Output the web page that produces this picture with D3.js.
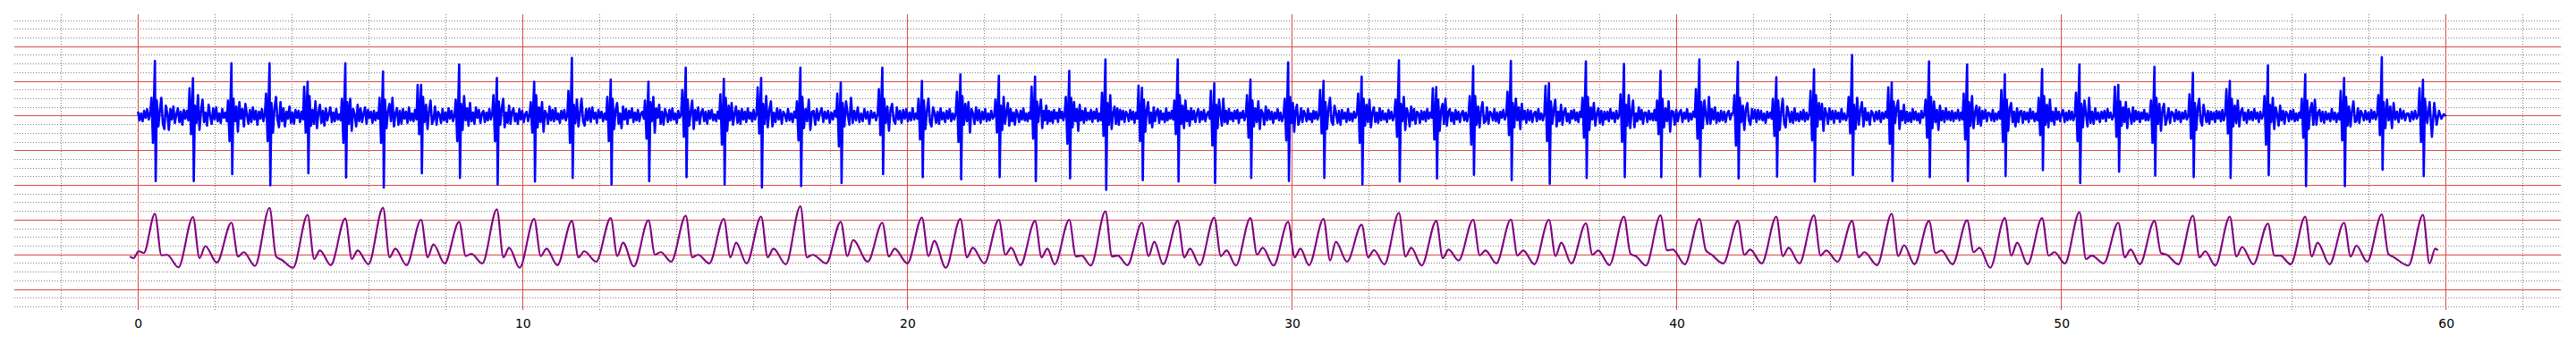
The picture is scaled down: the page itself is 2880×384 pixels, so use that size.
<!DOCTYPE html>
<html>
<head>
<meta charset="utf-8">
<script src="https://cdn.jsdelivr.net/npm/d3@7"></script>
<style>
  html, body { margin: 0; padding: 0; background: #fff; }
  svg { display: block; }
  .tick text { font-family: "DejaVu Sans", sans-serif; font-size: 13.9px; fill: #000; }
</style>
</head>
<body>
<svg id="chart" width="2880" height="384"></svg>
<script>
// time of each heart beat (s)
var beatTimes = [0.44, 1.43, 2.43, 3.42, 4.41, 5.39, 6.37, 7.36, 8.35, 9.33,
  10.30, 11.28, 12.29, 13.27, 14.24, 15.23, 16.20, 17.22, 18.27, 19.35,
  20.38, 21.38, 22.38, 23.32, 24.21, 25.15, 26.10, 27.03, 27.98, 28.92,
  29.90, 30.82, 31.81, 32.78, 33.75, 34.71, 35.69, 36.68, 37.64, 38.63,
  39.58, 40.59, 41.59, 42.59, 43.57, 44.56, 45.59, 46.56, 47.55, 48.53,
  49.50, 50.47, 51.48, 52.42, 53.42, 54.38, 55.37, 56.34, 57.35, 58.33, 59.40];

// ECG (blue): R peak, S trough and the small wave just before each QRS
var rPeak = [6.36, 4.36, 6.1, 6.1, 3.95, 6.1, 5.15, 3.6, 5.95, 4.4,
  3.95, 6.7, 4.2, 3.95, 5.57, 4.3, 4.4, 5.57, 3.88, 5.57,
  4.05, 4.8, 4.64, 4.54, 5.22, 6.53, 3.26, 6.53, 3.78, 4.2,
  6.19, 4.05, 4.54, 6.43, 3.33, 5.77, 6.36, 3.78, 6.29, 6.01,
  5.22, 6.53, 6.25, 4.47, 5.4, 7.04, 3.88, 6.29, 5.95, 4.8,
  5.43, 5.95, 3.6, 5.67, 4.98, 4.05, 5.84, 4.8, 4.4, 6.8, 4.19];
var sTrough = [-7.5, -7.5, -6.7, -8.0, -6.6, -7.1, -8.25, -6.6, -7.15, -7.9,
  -7.55, -7.15, -7.9, -7.5, -7.05, -7.9, -8.25, -8.08, -7.73, -6.7,
  -7.05, -7.3, -7.05, -7.5, -7.2, -8.5, -7.4, -7.55, -7.73, -7.15,
  -7.49, -7.15, -7.9, -7.56, -7.2, -6.77, -7.39, -7.8, -7.15, -7.05,
  -7.05, -6.98, -7.2, -6.98, -7.56, -6.8, -7.5, -7.05, -7.5, -6.94,
  -6.25, -7.73, -6.43, -6.87, -7.05, -7.15, -6.8, -8.08, -8.08, -6.19, -6.94];
var qUp = [2.1, 3.2, 1.8, 2.6, 3.4, 2.0, 2.1, 3.6, 1.9, 2.4,
  1.6, 2.9, 2.2, 1.8, 3.0, 2.5, 3.3, 1.7, 2.6, 3.1,
  2.0, 2.8, 1.9, 3.4, 2.2, 2.7, 3.5, 1.8, 2.9, 2.4,
  2.0, 3.0, 2.6, 1.9, 3.2, 2.3, 2.8, 3.5, 2.1, 2.5,
  1.8, 3.1, 2.4, 2.0, 2.9, 2.2, 3.3, 1.9, 2.6, 3.0,
  2.1, 2.7, 3.4, 1.8, 2.5, 3.1, 2.3, 2.0, 2.9, 2.4, 3.2];
var qDip = [-3.1, -2.1, -2.9, -2.9, -1.9, -3.1, -3.1, -2.1, -2.9, -2.9,
  -1.9, -3.1, -2.9, -2.6, -2.4, -3.3, -2.0, -2.8, -3.5, -2.2,
  -2.7, -3.0, -1.9, -2.6, -3.2, -2.3, -2.9, -2.1, -3.4, -2.5,
  -2.8, -2.0, -3.1, -2.4, -2.7, -3.3, -2.2, -2.9, -2.5, -3.0,
  -2.1, -2.6, -3.4, -2.3, -2.8, -2.0, -3.2, -2.5, -2.7, -3.0,
  -2.2, -2.9, -2.4, -3.1, -2.6, -2.0, -3.3, -2.5, -2.8, -2.2, -3.0];

// ECG wiggles before the first beat, then one row after every beat
var ecgLead = [0.5, -0.5, 0.3, -0.6, 0.6, -0.2, 0.8, -0.4, 0.4];
var ecgNoise = [
  [1.8,-1.2,0.6,2.1,-0.9,-1.5,1.2,0.3,-1.6,0.8,-0.4,1.1,-0.8,0.2,0.9,-0.7,0.5,-1.0,0.7,-0.3,0.6,-0.5],
  [1.2,-0.8,2.4,-1.6,0.5,1.9,-0.7,0.4,-1.1,1.3,0.1,-0.9,0.9,-0.4,1.0,-0.6,0.3,-0.8,0.8,-0.2,0.4,-0.6],
  [2.0,-0.6,1.1,-1.8,1.6,-0.3,0.8,-1.2,1.4,0.2,-0.9,0.7,-0.7,1.0,-0.4,0.6,-1.0,0.5,-0.3,0.8,-0.6,0.3],
  [1.5,-1.9,0.9,2.2,-0.4,-1.3,1.6,-0.6,0.9,-1.2,0.5,-0.3,1.1,-0.8,0.4,-0.9,0.7,-0.2,0.6,-0.7,0.5,-0.4],
  [2.3,-1.1,0.7,-0.9,1.7,-1.4,0.4,1.3,-0.8,0.6,-1.1,0.9,-0.5,0.3,1.0,-0.7,0.4,-0.6,0.8,-0.4,0.2,-0.5],
  [1.6,-0.9,2.0,-1.7,0.8,0.2,-1.2,1.3,-0.6,0.9,-0.7,0.3,1.0,-0.9,0.7,-0.2,0.5,-0.8,0.6,-0.5,0.4,-0.3],
  [1.9,-1.4,0.5,1.4,-0.6,2.1,-1.2,0.3,0.9,-1.0,0.6,-0.9,0.8,-0.3,0.5,-0.8,1.0,-0.5,0.3,-0.6,0.7,-0.4],
  [2.2,-0.7,1.3,-1.5,0.6,1.8,-0.9,-0.4,1.1,-1.0,0.5,0.2,-0.8,0.8,-0.5,0.4,-0.7,0.9,-0.3,0.6,-0.6,0.2],
  [1.4,-1.6,2.3,-0.5,0.9,-1.1,1.5,-0.6,0.4,-0.9,1.0,-0.2,0.7,-0.8,0.3,0.6,-0.7,0.4,-0.5,0.8,-0.4,0.3],
  [1.7,-1.0,0.8,2.0,-1.3,0.4,-0.8,1.2,-0.9,0.5,0.9,-0.6,0.3,-0.9,0.8,-0.4,0.6,-0.7,0.2,0.5,-0.6,0.2],
  [2.4,-1.3,1.0,-0.7,1.6,-1.8,0.6,0.2,-0.9,1.1,-0.5,0.7,-0.6,0.9,-0.4,0.3,-0.8,0.6,-0.3,0.7,-0.5,0.1],
  [1.3,-0.8,1.9,-1.2,0.4,2.0,-0.6,-1.1,0.8,-0.5,0.9,-0.7,1.0,-0.3,0.4,-0.8,0.7,-0.2,0.5,-0.6,0.3,-0.4],
  [2.0,-1.5,0.7,1.5,-0.9,0.3,-1.4,1.1,-0.4,0.8,-0.9,0.6,-0.2,0.9,-0.7,0.4,-0.5,0.7,-0.6,0.3,0.5,-0.3],
  [1.6,-0.6,2.2,-1.9,0.9,-0.2,1.3,-0.9,0.5,-1.0,0.8,0.2,-0.7,0.7,-0.5,0.9,-0.4,0.3,-0.8,0.6,-0.2,0.2],
  [1.9,-1.1,0.5,1.8,-1.5,0.7,-0.5,1.0,-0.9,0.4,0.8,-0.6,0.5,-0.9,0.6,-0.3,0.7,-0.5,0.2,-0.6,0.5,-0.3],
  [2.1,-1.7,1.2,-0.5,1.5,-1.0,0.3,1.1,-0.8,0.6,-0.9,0.8,-0.4,0.5,-0.7,0.9,-0.3,0.4,-0.6,0.7,-0.4,0.3],
  [1.4,-0.9,2.3,-1.3,0.6,1.7,-1.2,0.4,-0.7,0.9,-0.4,0.7,-0.9,0.5,0.2,-0.6,0.8,-0.5,0.3,-0.7,0.5,-0.2],
  [2.2,-1.4,0.8,-0.6,1.9,-1.6,0.5,0.6,-1.0,0.8,-0.5,0.4,0.9,-0.7,0.5,-0.3,0.6,-0.8,0.4,-0.4,0.6,-0.1],
  [1.5,-1.2,1.7,0.2,-1.0,2.1,-0.8,0.6,-0.5,1.0,-0.7,0.3,-0.6,0.8,-0.3,0.5,-0.9,0.6,-0.2,0.4,-0.5,0.3],
  [2.0,-0.8,1.1,-1.7,0.7,1.4,-0.5,-0.9,1.0,-0.4,0.6,-0.8,0.7,-0.3,0.8,-0.6,0.4,-0.5,0.9,-0.4,0.3,-0.3],
  [1.8,-1.5,0.6,2.0,-0.7,-1.2,1.0,0.4,-0.8,0.5,-0.9,0.9,-0.4,0.4,-0.7,0.6,-0.3,0.8,-0.6,0.3,-0.4,0.4],
  [2.3,-1.0,1.4,-0.6,1.6,-1.9,0.8,0.3,-0.9,1.0,-0.5,0.7,-0.8,0.5,-0.4,0.8,-0.6,0.3,-0.5,0.6,-0.3,0.1],
  [1.2,-1.6,2.2,-0.9,0.5,1.5,-1.1,0.8,-0.6,0.4,-1.0,0.7,0.2,-0.7,0.6,-0.4,0.9,-0.5,0.3,-0.6,0.4,-0.3],
  [1.7,-0.7,0.9,1.9,-1.4,0.6,-0.5,1.2,-0.9,0.6,-0.6,0.5,-0.8,0.7,-0.3,0.4,-0.7,0.8,-0.2,0.5,-0.5,0.2],
  [2.1,-1.3,1.6,-0.6,0.8,-1.7,1.3,-0.5,0.6,-0.8,0.9,-0.5,0.4,-0.4,0.7,-0.7,0.5,-0.3,0.8,-0.6,0.3,-0.5],
  [1.5,-1.0,2.4,-1.5,0.3,1.1,-0.9,0.9,-1.0,0.7,-0.4,0.6,-0.7,0.5,0.2,-0.6,0.7,-0.4,0.5,-0.8,0.4,-0.3],
  [1.9,-1.8,0.7,1.6,-0.8,0.4,-1.3,1.0,-0.6,0.5,0.8,-0.8,0.6,-0.4,0.3,-0.7,0.9,-0.5,0.4,-0.3,0.6,-0.4],
  [2.4,-0.9,1.2,-1.4,1.8,-0.6,0.6,-1.1,0.9,-0.4,0.6,-0.7,0.3,0.8,-0.7,0.5,-0.4,0.7,-0.6,0.2,0.5,-0.3],
  [1.3,-1.4,1.9,0.3,-1.1,2.0,-0.7,0.6,-0.9,0.8,-0.4,0.4,-0.6,0.6,-0.3,0.7,-0.8,0.4,-0.2,0.6,-0.5,0.2],
  [1.8,-1.2,0.9,-0.7,1.7,-1.5,0.7,0.3,-1.0,1.1,-0.5,0.7,-0.4,0.5,-0.8,0.4,-0.3,0.8,-0.5,0.4,-0.6,0.1],
  [2.2,-0.8,1.5,-1.8,0.6,1.3,-1.0,-0.4,0.9,-0.7,0.6,0.2,-0.6,0.8,-0.4,0.3,-0.7,0.6,-0.3,0.5,-0.4,0.2],
  [1.6,-1.5,0.8,2.1,-0.6,-1.0,1.2,0.4,-0.8,0.6,-1.0,0.7,-0.3,0.4,-0.7,0.8,-0.5,0.3,-0.6,0.5,-0.2,0.4],
  [2.0,-1.1,1.3,-0.7,1.9,-1.3,0.4,1.0,-0.7,0.4,-0.8,0.9,-0.5,0.6,-0.4,0.3,-0.7,0.7,-0.3,0.5,-0.5,0.1],
  [1.4,-0.6,2.2,-1.6,0.9,0.3,-1.2,1.1,-0.5,0.8,-0.9,0.5,0.3,-0.8,0.6,-0.4,0.5,-0.6,0.8,-0.3,0.4,-0.2],
  [1.9,-1.7,0.6,1.4,-0.9,2.0,-1.1,0.5,0.8,-0.6,0.4,-0.9,0.7,-0.4,0.5,-0.7,0.3,0.6,-0.5,0.4,-0.6,0.3],
  [2.3,-1.0,1.1,-1.3,0.7,1.6,-0.8,-0.6,1.0,-0.9,0.5,0.3,-0.5,0.8,-0.6,0.4,-0.8,0.5,-0.2,0.7,-0.4,0.2],
  [1.5,-1.3,2.0,-0.5,1.0,-1.5,1.4,-0.4,0.6,-0.8,0.7,-0.5,0.6,-0.7,0.3,0.5,-0.6,0.8,-0.4,0.3,-0.5,0.3],
  [1.7,-0.9,0.7,1.9,-1.2,0.5,-0.6,1.3,-1.0,0.5,0.9,-0.6,0.3,-0.8,0.6,-0.3,0.7,-0.5,0.4,-0.7,0.5,-0.1],
  [2.2,-1.6,1.0,-0.4,1.5,-1.1,0.3,0.9,-0.8,0.6,-1.0,0.5,-0.4,0.5,-0.6,0.8,-0.3,0.4,-0.7,0.6,-0.3,0.2],
  [1.3,-1.1,2.4,-1.4,0.5,1.8,-1.3,0.3,-0.6,1.0,-0.4,0.7,-0.9,0.4,0.4,-0.7,0.6,-0.4,0.3,-0.5,0.7,-0.5],
  [2.0,-1.3,0.9,-0.6,1.7,-1.8,0.6,0.5,-1.0,0.7,-0.6,0.4,0.7,-0.7,0.4,-0.3,0.8,-0.6,0.3,-0.4,0.5,-0.1],
  [1.6,-1.4,1.8,0.1,-0.9,2.2,-0.9,0.8,-0.4,1.0,-0.8,0.4,-0.6,0.6,-0.5,0.5,-0.7,0.3,0.6,-0.4,0.3,0.3],
  [2.1,-0.7,1.2,-1.6,0.8,1.5,-0.5,-1.0,0.8,-0.3,0.7,-0.7,0.7,-0.4,0.6,-0.5,0.3,-0.8,0.5,-0.2,0.4,-0.3],
  [1.8,-1.6,0.5,2.0,-0.8,-1.3,1.1,0.4,-0.7,0.5,-0.8,0.9,-0.5,0.3,-0.6,0.5,-0.4,0.7,-0.6,0.4,-0.4,0.3],
  [2.4,-1.2,1.5,-0.4,1.4,-1.7,0.9,0.3,-0.9,0.9,-0.4,0.6,-0.8,0.6,-0.3,0.4,-0.7,0.8,-0.4,0.3,-0.5,0.1],
  [1.3,-1.5,2.1,-1.0,0.6,1.6,-1.2,0.9,-0.5,0.4,-1.0,0.6,0.3,-0.6,0.5,-0.4,0.6,-0.7,0.4,-0.3,0.5,-0.2],
  [1.7,-0.8,1.0,1.8,-1.5,0.6,-0.5,1.3,-0.8,0.5,-0.6,0.4,-0.7,0.8,-0.4,0.5,-0.5,0.3,-0.8,0.6,-0.2,0.3],
  [2.2,-1.4,1.7,-0.7,0.7,-1.6,1.2,-0.5,0.6,-0.7,0.9,-0.4,0.5,-0.5,0.6,-0.6,0.4,-0.3,0.7,-0.5,0.4,-0.4],
  [1.6,-1.1,2.3,-1.4,0.4,1.2,-0.9,1.0,-1.1,0.6,-0.3,0.7,-0.6,0.4,0.3,-0.5,0.7,-0.6,0.3,-0.4,0.5,-0.3],
  [1.9,-1.7,0.8,1.5,-0.7,0.5,-1.2,0.9,-0.7,0.5,0.6,-0.8,0.5,-0.4,0.4,-0.7,0.8,-0.3,0.5,-0.6,0.3,-0.5],
  [2.3,-1.0,1.3,-1.3,1.9,-0.6,0.5,-1.0,0.9,-0.4,0.5,-0.6,0.3,0.7,-0.7,0.4,-0.5,0.6,-0.4,0.5,-0.5,0.2],
  [1.4,-1.3,1.8,0.2,-1.2,2.1,-0.8,0.5,-0.9,0.9,-0.4,0.4,-0.7,0.5,-0.3,0.6,-0.6,0.8,-0.2,0.4,-0.4,0.1],
  [1.7,-1.1,1.0,-0.7,1.6,-1.4,0.8,0.2,-0.9,1.0,-0.6,0.6,-0.4,0.5,-0.7,0.4,-0.3,0.7,-0.5,0.3,-0.5,0.2],
  [2.1,-0.9,1.4,-1.7,0.7,1.4,-1.0,-0.3,0.9,-0.8,0.5,0.3,-0.6,0.7,-0.4,0.5,-0.7,0.4,-0.3,0.6,-0.4,0.1],
  [1.5,-1.6,0.9,2.0,-0.6,-1.1,1.3,0.3,-0.7,0.6,-0.9,0.5,-0.4,0.4,-0.7,0.6,-0.3,0.5,-0.6,0.7,-0.5,0.3],
  [2.0,-1.2,1.2,-0.8,1.8,-1.2,0.5,0.9,-0.5,0.4,-0.8,0.7,-0.4,0.5,-0.5,0.8,-0.3,0.4,-0.7,0.5,-0.3,0.2],
  [1.3,-0.7,2.1,-1.5,1.0,0.2,-1.1,1.2,-0.5,0.6,-0.9,0.5,0.2,-0.6,0.6,-0.4,0.7,-0.6,0.3,-0.5,0.4,-0.2],
  [1.8,-1.5,0.7,1.5,-1.0,1.9,-1.0,0.4,0.7,-0.6,0.5,-0.8,0.5,-0.4,0.3,-0.6,0.8,-0.4,0.4,-0.7,0.3,-0.4],
  [2.2,-1.1,1.1,-1.2,0.6,1.7,-0.7,-0.6,0.9,-0.8,0.6,0.2,-0.5,0.6,-0.4,0.4,-0.7,0.7,-0.3,0.5,-0.4,0.3],
  [1.6,-1.4,1.9,-0.5,1.1,-1.4,1.5,-0.4,0.5,-0.7,0.8,-0.3,0.6,-0.5,0.3,0.3,-0.6,0.5,-0.4,0.6,-0.3,0.2],
  [2.0,-0.8,1.6,-2.4,1.5,-1.0,0.6,-0.3,0.2,0.0]
];
var ecgEnd = 60;

// pulse wave (purple): peak, notch, dicrotic bump, valley after each beat
var ppgLeadT = [-0.21, -0.12, 0.02, 0.15];
var ppgLeadV = [-16.2, -16.4, -15.6, -15.8];
var ppgPeak = [-11.27, -11.65, -12.3, -10.6, -11.4, -11.8, -10.58, -11.96, -12.2, -10.76,
  -11.86, -12.1, -11.75, -12.03, -11.5, -11.86, -11.6, -10.4, -12.2, -12.3,
  -11.7, -11.86, -11.96, -12.1, -11.96, -11.0, -12.3, -12.1, -11.7, -11.75,
  -12.2, -11.86, -12.54, -11.17, -12.1, -11.96, -11.93, -11.96, -12.37, -11.6,
  -11.44, -11.86, -12.1, -11.6, -11.44, -12.1, -11.27, -12.1, -12.03, -11.75,
  -11.75, -11.1, -12.3, -12.1, -11.5, -11.6, -12.4, -11.6, -12.3, -11.34, -11.4];
var ppgNotch = [-16.06, -16.4, -16.2, -16.2, -16.5, -16.5, -16.3, -16.3, -16.15, -16.3,
  -16.15, -16.3, -16.15, -16.0, -16.3, -16.3, -16.3, -16.3, -16.15, -16.2,
  -16.15, -16.3, -16.0, -16.3, -16.2, -16.2, -16.15, -16.3, -16.15, -15.98,
  -16.3, -16.66, -16.3, -16.2, -16.4, -16.07, -16.1, -16.15, -16.0, -15.9,
  -15.5, -15.5, -16.0, -16.15, -16.1, -16.3, -16.15, -15.8, -15.7, -16.1,
  -16.1, -16.5, -16.3, -15.8, -16.3, -16.2, -16.1, -16.2, -16.2, -15.9, -17.0];
var ppgBump = [-16.0, -15.0, -15.7, -16.6, -15.5, -15.5, -15.3, -14.8, -15.9, -15.2,
  -15.3, -15.6, -14.6, -15.7, -16.0, -14.6, -15.3, -16.0, -14.3, -15.3,
  -14.4, -15.2, -15.2, -15.3, -16.1, -16.1, -14.5, -15.3, -15.5, -15.2,
  -15.3, -14.5, -15.46, -15.2, -15.4, -15.5, -15.5, -14.6, -15.5, -16.2,
  -15.4, -16.0, -15.4, -15.2, -15.5, -15.7, -14.9, -15.5, -15.2, -14.6,
  -15.7, -16.1, -15.4, -16.0, -15.6, -15.1, -16.1, -14.6, -14.95, -16.3, -15.3];
var ppgValley = [-17.45, -16.9, -17.3, -17.5, -17.2, -17.1, -17.2, -17.0, -17.0, -17.5,
  -17.2, -16.8, -17.35, -16.8, -17.0, -17.0, -17.1, -17.0, -16.8, -17.0,
  -17.5, -17.0, -17.2, -17.1, -17.25, -17.2, -17.1, -17.2, -17.25, -17.25,
  -17.2, -16.8, -17.1, -17.25, -16.66, -17.0, -17.1, -17.0, -17.2, -17.25,
  -17.1, -17.0, -17.0, -17.0, -16.8, -17.2, -17.1, -17.1, -17.5, -17.1,
  -17.0, -17.0, -17.1, -17.1, -17.25, -17.1, -17.1, -17.1, -16.8, -17.25, -15.5];
var ppgEnd = 59.79;

// grid and ticks
var xTickLabels = [0, 10, 20, 30, 40, 50, 60];
var xMinorGrid = d3.range(-2, 63, 2).filter(function(d) { return d % 10 !== 0; });
var yMajorGrid = [-20, -16, -12, -8, -4, 0, 4, 8];
var yMinorGrid = d3.range(-22, 12).filter(function(d) { return d % 4 !== 0; });

var plot = { left: 16, right: 2863.3, top: 16, bottom: 347 };

var svg = d3.select('#chart');

var x = d3.scaleLinear().domain([-3.215, 62.99]).range([plot.left, plot.right]);
var y = d3.scaleLinear().domain([-22.37, 11.74]).range([plot.bottom, plot.top]);

// snap thin grid lines to the pixel grid, like matplotlib does
function snap(v) { return Math.round(v - 0.5) + 0.5; }

var grid = svg.append('g').attr('class', 'grid');

grid.selectAll('line.hminor').data(yMinorGrid).enter().append('line')
    .attr('class', 'hminor')
    .attr('x1', plot.left).attr('x2', plot.right)
    .attr('y1', function(d) { return snap(y(d)); }).attr('y2', function(d) { return snap(y(d)); })
    .style('stroke', '#808080').style('stroke-width', 1).style('stroke-dasharray', '1,2');

grid.selectAll('line.vminor').data(xMinorGrid).enter().append('line')
    .attr('class', 'vminor')
    .attr('x1', function(d) { return snap(x(d)); }).attr('x2', function(d) { return snap(x(d)); })
    .attr('y1', plot.top).attr('y2', plot.bottom)
    .style('stroke', '#808080').style('stroke-width', 1).style('stroke-dasharray', '1,2');

grid.selectAll('line.hmajor').data(yMajorGrid).enter().append('line')
    .attr('class', 'hmajor')
    .attr('x1', plot.left).attr('x2', plot.right)
    .attr('y1', function(d) { return snap(y(d)); }).attr('y2', function(d) { return snap(y(d)); })
    .style('stroke', '#d94a4a').style('stroke-width', 1);

grid.selectAll('line.vmajor').data(xTickLabels).enter().append('line')
    .attr('class', 'vmajor')
    .attr('x1', function(d) { return snap(x(d)); }).attr('x2', function(d) { return snap(x(d)); })
    .attr('y1', plot.top).attr('y2', plot.bottom)
    .style('stroke', '#d94a4a').style('stroke-width', 1);

// x axis: labels only
var xAxis = d3.axisBottom(x).tickValues(xTickLabels).tickSize(0).tickPadding(10.4)
    .tickFormat(d3.format('d'));
svg.append('g')
    .attr('transform', 'translate(0,' + plot.bottom + ')')
    .call(xAxis)
    .call(function(g) { g.select('.domain').remove(); });

// build ECG points
var ecgPts = [];
var leadEnd = beatTimes[0] - 0.12;
ecgLead.forEach(function(v, k) {
  ecgPts.push([leadEnd * k / (ecgLead.length - 1), v]);
});
beatTimes.forEach(function(t, i) {
  ecgPts.push([t - 0.09, qUp[i]]);
  ecgPts.push([t - 0.05, qDip[i]]);
  ecgPts.push([t, rPeak[i]]);
  ecgPts.push([t + 0.02, sTrough[i]]);
  var row = ecgNoise[i];
  var start = t + 0.05;
  var end = i < beatTimes.length - 1 ? beatTimes[i + 1] - 0.12 : ecgEnd;
  row.forEach(function(v, k) {
    ecgPts.push([start + (end - start) * k / (row.length - 1), v]);
  });
});

// build pulse points
var ppgPts = [];
ppgLeadT.forEach(function(t, k) { ppgPts.push([t, ppgLeadV[k]]); });
beatTimes.forEach(function(t, i) {
  ppgPts.push([t, ppgPeak[i]]);
  ppgPts.push([t + 0.17, ppgNotch[i]]);
  ppgPts.push([t + 0.32, ppgBump[i]]);
  var tv = i < beatTimes.length - 1 ? beatTimes[i + 1] - 0.38 : ppgEnd;
  ppgPts.push([tv, ppgValley[i]]);
});

var ecgLine = d3.line()
    .x(function(d) { return x(d[0]); })
    .y(function(d) { return y(d[1]); });

var ppgLine = d3.line()
    .x(function(d) { return x(d[0]); })
    .y(function(d) { return y(d[1]); })
    .curve(d3.curveMonotoneX);

svg.append('path')
    .datum(ecgPts)
    .attr('d', ecgLine)
    .style('fill', 'none')
    .style('stroke', '#0000ff')
    .style('stroke-width', 2.6)
    .style('stroke-linejoin', 'round');

svg.append('path')
    .datum(ppgPts)
    .attr('d', ppgLine)
    .style('fill', 'none')
    .style('stroke', '#800080')
    .style('stroke-width', 2.1)
    .style('stroke-linejoin', 'round');
</script>
</body>
</html>
